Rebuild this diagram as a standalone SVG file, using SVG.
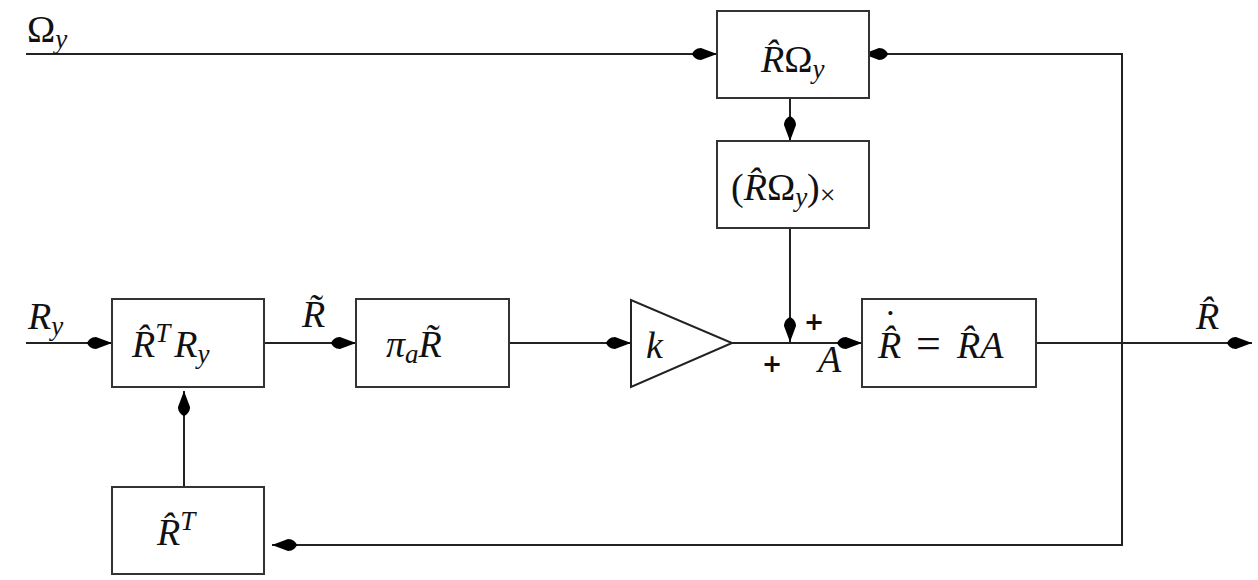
<svg xmlns="http://www.w3.org/2000/svg" width="1258" height="580" viewBox="0 0 1258 580">
<defs>
<style>
.box{fill:#fff;stroke:#333;stroke-width:2}
.ln{fill:none;stroke:#222;stroke-width:2;marker-end:url(#ah)}
.pl{fill:none;stroke:#222;stroke-width:2}
text{font-family:"Liberation Serif","DejaVu Serif",serif;font-size:38px;fill:#111}
.i{font-style:italic}
.sub{font-style:italic;font-size:27px}
.sg{font-family:"DejaVu Sans","Liberation Sans",sans-serif;font-size:24px;font-weight:bold}
</style>
<marker id="ah" viewBox="-26 -8 27 16" refX="0" refY="0" markerWidth="27" markerHeight="16" markerUnits="userSpaceOnUse" orient="auto">
<path d="M0,0 L-16,-6 C-21,-6 -24,-2.5 -25,0 C-24,2.5 -21,6 -16,6 Z" fill="#000"/>
</marker>
</defs>
<rect width="1258" height="580" fill="#fff"/>
<g id="connectors">
<path class="ln" d="M26,54 H717"/>
<path class="ln" d="M1122,343 V54 H863"/>
<path class="ln" d="M1122,343 V545 H272"/>
<path class="ln" d="M1036,343 H1252"/>
<path class="ln" d="M26,343 H112"/>
<path class="ln" d="M257,343 H356"/>
<path class="ln" d="M503,343 H631"/>
<path class="ln" d="M732,343 H862"/>
<path class="ln" d="M790,228 V342"/>
<path class="ln" d="M790,98 V141"/>
<path class="ln" d="M184,487 V391"/>
</g>
<g id="node-romega">
<rect class="box" x="717" y="11" width="152" height="87"/>
<text x="761" y="72"><tspan class="i">R&#x302;</tspan>Ω<tspan class="sub" dy="6">y</tspan></text>
</g>
<g id="node-romega-cross">
<rect class="box" x="717" y="141" width="152" height="87"/>
<text x="731" y="200">(<tspan class="i">R&#x302;</tspan>Ω<tspan class="sub" dy="6">y</tspan><tspan dy="-6">)</tspan><tspan font-size="28" dy="4">×</tspan></text>
</g>
<g id="node-rtry">
<rect class="box" x="112" y="299" width="152" height="88"/>
<text x="132" y="357"><tspan class="i">R&#x302;</tspan><tspan class="sub" dy="-15">T</tspan><tspan class="i" dy="15" dx="4">R</tspan><tspan class="sub" dy="6">y</tspan></text>
</g>
<g id="node-pia">
<rect class="box" x="356" y="299" width="153" height="88"/>
<text x="386" y="357"><tspan class="i">π</tspan><tspan class="sub" dy="6">a</tspan><tspan class="i" dy="-6">R&#x303;</tspan></text>
</g>
<g id="node-k">
<polygon class="pl" points="631,300 631,387 732,343" fill="#fff"/>
<text class="i" x="646" y="358">k</text>
</g>
<g id="node-rdot">
<rect class="box" x="862" y="299" width="174" height="88"/>
<text x="884" y="336">˙<tspan class="i" x="878" y="358">R&#x302;</tspan><tspan x="916" font-size="44">=</tspan><tspan class="i" x="957">R&#x302;A</tspan></text>
</g>
<g id="node-rt">
<rect class="box" x="112" y="487" width="152" height="87"/>
<text x="157" y="545"><tspan class="i">R&#x302;</tspan><tspan class="sub" dy="-15">T</tspan></text>
</g>
<g id="labels">
<text x="27" y="42">Ω<tspan class="sub" dy="6">y</tspan></text>
<text x="28" y="329"><tspan class="i">R</tspan><tspan class="sub" dy="6">y</tspan></text>
<text class="i" x="302" y="327">R&#x303;</text>
<text class="i" x="1196" y="329">R&#x302;</text>
<text class="i" x="818" y="372">A</text>
<text class="sg" x="804" y="330">+</text>
<text class="sg" x="762" y="372">+</text>
</g>
</svg>
